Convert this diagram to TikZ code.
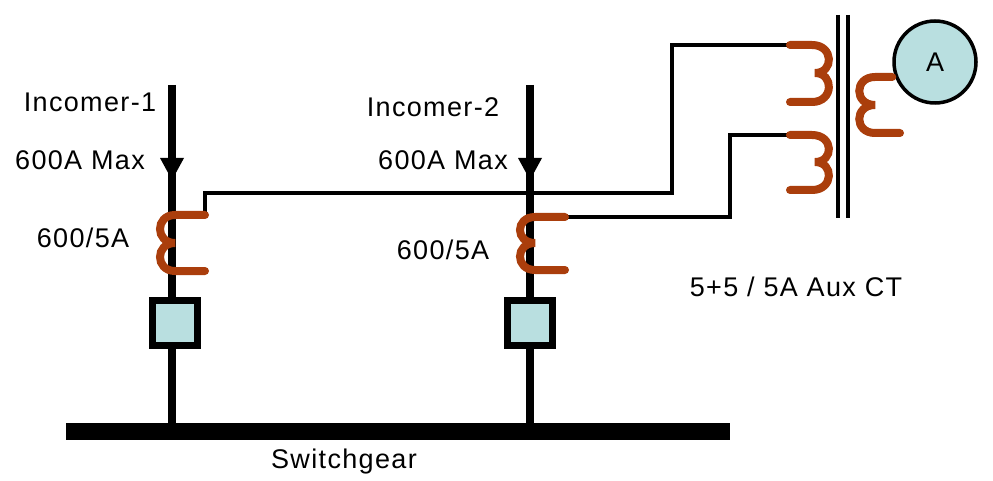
\documentclass[tikz,border=0pt]{standalone}
\usepackage{fontspec}
\setmainfont{Liberation Sans}[LetterSpace=5]
\begin{document}
\begin{tikzpicture}[x=1pt,y=-1pt,
  bus/.style={line width=8pt},
  wire/.style={line width=3.5pt,line join=miter},
  coil/.style={line width=8pt,color={rgb,255:red,170;green,62;blue,12},line cap=round},
  brk/.style={draw,line width=7pt,fill={rgb,255:red,185;green,223;blue,224},minimum size=45pt,inner sep=0pt},
  lbl/.style={font=\fontsize{27}{29}\selectfont,inner sep=0pt}]
\useasboundingbox (0,0) rectangle (993,481);
% busbar
\fill (66,423) rectangle (730,440);
\coordinate (i1t) at (172,85); \coordinate (i1b) at (172,430);
\coordinate (i2t) at (530,85); \coordinate (i2b) at (530,430);
\draw[bus] (i1t) -- (i1b);
\draw[bus] (i2t) -- (i2b);
\fill (160,158) -- (184,158) -- (172,180) -- cycle;
\fill (518,158) -- (542,158) -- (530,180) -- cycle;
\node[brk] (b1) at (175,323) {};
\node[brk] (b2) at (530,323) {};
% wires
\draw[wire] (205,215) -- (205,193) -- (672,193) -- (672,45) -- (790,45);
\draw[wire] (565,217) -- (730,217) -- (730,135) -- (790,135);
% CT coils
\draw[coil] (205,215) -- (175,215) .. controls (155,215) and (155,243) .. (175,243)
  .. controls (155,243) and (155,271) .. (175,271) -- (205,271);
\draw[coil] (565,217) -- (535,217) .. controls (515,217) and (515,243) .. (535,243)
  .. controls (515,243) and (515,270) .. (535,270) -- (565,270);
% aux CT
\draw[line width=3.5pt] (838,15) -- (838,218);
\draw[line width=3.5pt] (848,15) -- (848,218);
\draw[coil] (790,45) -- (812,45) .. controls (834,45) and (834,73) .. (815,73)
  .. controls (834,73) and (834,102) .. (812,102) -- (790,102);
\draw[coil] (790,135) -- (812,135) .. controls (834,135) and (834,162) .. (815,162)
  .. controls (834,162) and (834,190) .. (812,190) -- (790,190);
\node[draw,line width=3.5pt,circle,minimum size=82pt,fill={rgb,255:red,185;green,223;blue,224},font=\fontsize{27}{29}\selectfont] (amm) at (935,62) {A};
\draw[coil] (amm.west |- 0,77) -- (875,77) .. controls (854,77) and (854,105) .. (875,105)
  .. controls (854,105) and (854,133) .. (875,133) -- (900,133);
% labels
\node[lbl] (t1) at (90,102) {Incomer-1};
\node[lbl] (t2) at (80,160) {600A Max};
\node[lbl] (t3) at (83,238) {600/5A};
\node[lbl] (t4) at (433,107) {Incomer-2};
\node[lbl] (t5) at (443,160) {600A Max};
\node[lbl] (t6) at (443,250) {600/5A};
\node[lbl] (t7) at (796,287) {5+5 / 5A Aux CT};
\node[lbl] (t8) at (344,462) {Switchgear};
\end{tikzpicture}
\end{document}
